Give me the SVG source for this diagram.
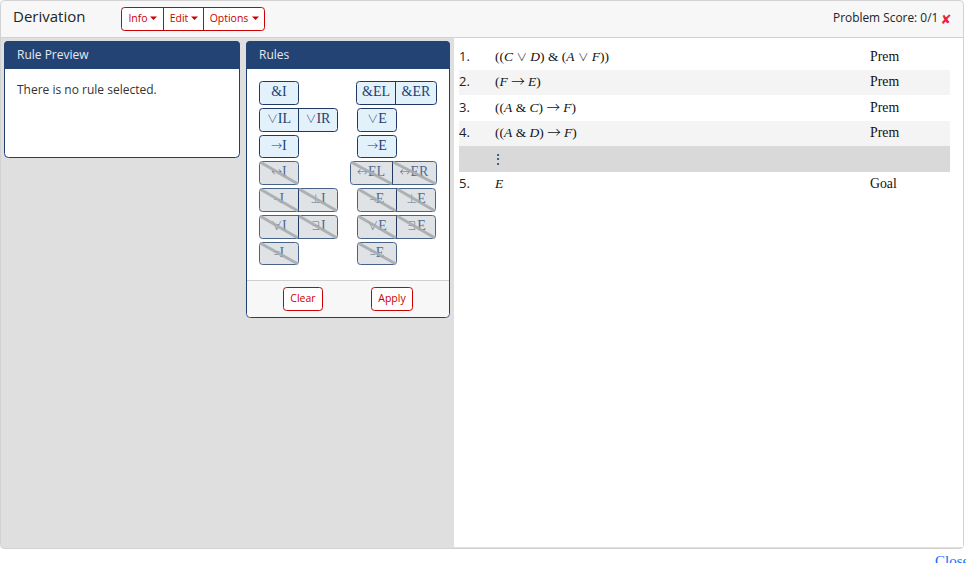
<svg xmlns="http://www.w3.org/2000/svg" width="966" height="563" viewBox="0 0 966 563">
<style>
text{font-family:"Open Sans","Noto Sans",sans-serif;fill:#212529;font-size:12px}
.i{font-style:italic}
.y{font-family:"Noto Sans CJK JP","Liberation Serif",serif;font-weight:300;font-size:.78em}
.a{font-family:"Noto Sans CJK JP","Liberation Serif",serif;font-weight:300;font-size:1em}
.hd{fill:#e4e9ee;font-size:12px}
.red{fill:#c00;font-size:10.5px;text-anchor:middle}
.btn{fill:#fff;stroke:#c00;stroke-width:1}
.r{fill:#e3f2fa;stroke:#1f3864;stroke-width:1}
.d{fill:#dfe3e6;stroke:#48628a;stroke-width:1}
.rt{font-family:"Liberation Serif",serif;font-size:14px;fill:#1f3f73;text-anchor:middle}
.dt{font-family:"Liberation Serif",serif;font-size:14px;fill:#4f6a92;text-anchor:middle}
.s{stroke:#a9acae;stroke-width:3;opacity:.9}
.n{font-size:13px;fill:#222}
.f{font-family:"Liberation Serif",serif;font-size:13.500px;fill:#111}
.p{font-family:"Liberation Serif",serif;font-size:13.800px;fill:#111}
</style>
<rect x="0.5" y="0.5" width="963" height="548" rx="4" fill="#dfdfdf" stroke="#d2d2d2"/>
<g id="header">
<path d="M1 37V5Q1 1 5 1H959Q963 1 963 5V37Z" fill="#f7f7f7"/>
<line x1="1" y1="37.500" x2="963" y2="37.500" stroke="#d2d2d2"/>
<text x="13" y="22" style="font-size:15px">Derivation</text>
<text x="833" y="22" style="font-size:11.900px" fill="#333">Problem Score: 0/1</text>
<text x="946" y="24" style="font-family:'DejaVu Sans',sans-serif;font-size:13px;fill:#e8213c;font-weight:bold;text-anchor:middle">✘</text>
</g>
<g id="menu">
<rect class="btn" x="121.500" y="7.500" width="143" height="23" rx="3"/>
<line x1="163.500" y1="7.500" x2="163.500" y2="30.500" stroke="#c00"/>
<line x1="203.500" y1="7.500" x2="203.500" y2="30.500" stroke="#c00"/>
<text class="red" x="138" y="22">Info</text><path d="M150 16.500h7l-3.500 3.500z" fill="#c00"/>
<text class="red" x="179" y="22">Edit</text><path d="M191 16.500h7l-3.500 3.500z" fill="#c00"/>
<text class="red" x="229" y="22">Options</text><path d="M252 16.500h7l-3.500 3.500z" fill="#c00"/>
</g>
<g id="rule-preview">
<rect x="4.500" y="41.500" width="235" height="116" rx="4" fill="#fff" stroke="#1f3f73"/>
<path d="M4 69V45Q4 41 8 41H236Q240 41 240 45V69Z" fill="#234375"/>
<text class="hd" x="17" y="59">Rule Preview</text>
<text x="17" y="94" style="fill:#333">There is no rule selected.</text>
</g>
<g id="rules">
<rect x="246.500" y="41.500" width="203" height="276" rx="4" fill="#fff" stroke="#1f3f73"/>
<path d="M246 69V45Q246 41 250 41H446Q450 41 450 45V69Z" fill="#234375"/>
<text class="hd" x="259" y="59">Rules</text>
<path d="M247 280.500H449V313Q449 317 445 317H251Q247 317 247 313Z" fill="#f7f7f7"/>
<line x1="247" y1="280.500" x2="449" y2="280.500" stroke="#cfcfcf"/>
<g id="rule-buttons-enabled">
<rect class="r" x="259.500" y="81.500" width="39" height="23" rx="3"/><text class="rt" x="279" y="96">&amp;I</text>
<rect class="r" x="356.500" y="81.500" width="80" height="23" rx="3"/><line x1="395.500" y1="81.500" x2="395.500" y2="104.500" stroke="#1f3864"/><text class="rt" x="376" y="96">&amp;EL</text><text class="rt" x="416" y="96">&amp;ER</text>
<rect class="r" x="259.500" y="108.500" width="78" height="23" rx="3"/><line x1="298.500" y1="108.500" x2="298.500" y2="131.500" stroke="#1f3864"/><text class="rt" x="279" y="123"><tspan class="y">∨</tspan>IL</text><text class="rt" x="318" y="123"><tspan class="y">∨</tspan>IR</text>
<rect class="r" x="357.500" y="108.500" width="39" height="23" rx="3"/><text class="rt" x="377" y="123"><tspan class="y">∨</tspan>E</text>
<rect class="r" x="259.500" y="135.500" width="39" height="22" rx="3"/><text class="rt" x="279" y="150"><tspan class="y">→</tspan>I</text>
<rect class="r" x="357.500" y="135.500" width="39" height="22" rx="3"/><text class="rt" x="377" y="150"><tspan class="y">→</tspan>E</text>
</g>
<g id="rule-buttons-disabled">
<rect class="d" x="259.500" y="161.500" width="39" height="23" rx="3"/><text class="dt" x="279" y="176"><tspan class="y">↔</tspan>I</text><line class="s" x1="260" y1="162" x2="298" y2="184"/>
<rect class="d" x="350.500" y="161.500" width="86" height="23" rx="3"/><line x1="392.500" y1="161.500" x2="392.500" y2="184.500" stroke="#1f3864"/><text class="dt" x="371" y="176"><tspan class="y">↔</tspan>EL</text><text class="dt" x="414" y="176"><tspan class="y">↔</tspan>ER</text><line class="s" x1="351" y1="162" x2="392" y2="184"/><line class="s" x1="393" y1="162" x2="436" y2="184"/>
<rect class="d" x="259.500" y="188.500" width="78" height="23" rx="3"/><line x1="298.500" y1="188.500" x2="298.500" y2="211.500" stroke="#1f3864"/><text class="dt" x="279" y="203"><tspan class="y">¬</tspan>I</text><text class="dt" x="318" y="203"><tspan class="y">⊥</tspan>I</text><line class="s" x1="260" y1="189" x2="298" y2="211"/><line class="s" x1="299" y1="189" x2="337" y2="211"/>
<rect class="d" x="357.500" y="188.500" width="78" height="23" rx="3"/><line x1="396.500" y1="188.500" x2="396.500" y2="211.500" stroke="#1f3864"/><text class="dt" x="377" y="203"><tspan class="y">¬</tspan>E</text><text class="dt" x="416" y="203"><tspan class="y">⊥</tspan>E</text><line class="s" x1="358" y1="189" x2="396" y2="211"/><line class="s" x1="397" y1="189" x2="435" y2="211"/>
<rect class="d" x="259.500" y="215.500" width="78" height="23" rx="3"/><line x1="298.500" y1="215.500" x2="298.500" y2="238.500" stroke="#1f3864"/><text class="dt" x="279" y="230"><tspan class="y">∀</tspan>I</text><text class="dt" x="318" y="230"><tspan class="y">∃</tspan>I</text><line class="s" x1="260" y1="216" x2="298" y2="238"/><line class="s" x1="299" y1="216" x2="337" y2="238"/>
<rect class="d" x="357.500" y="215.500" width="78" height="23" rx="3"/><line x1="396.500" y1="215.500" x2="396.500" y2="238.500" stroke="#1f3864"/><text class="dt" x="377" y="230"><tspan class="y">∀</tspan>E</text><text class="dt" x="416" y="230"><tspan class="y">∃</tspan>E</text><line class="s" x1="358" y1="216" x2="396" y2="238"/><line class="s" x1="397" y1="216" x2="435" y2="238"/>
<rect class="d" x="259.500" y="242.500" width="39" height="22" rx="3"/><text class="dt" x="279" y="257"><tspan class="y">=</tspan>I</text><line class="s" x1="260" y1="243" x2="298" y2="264"/>
<rect class="d" x="357.500" y="242.500" width="39" height="22" rx="3"/><text class="dt" x="377" y="257"><tspan class="y">=</tspan>E</text><line class="s" x1="358" y1="243" x2="396" y2="264"/>
</g>
<g id="clear"><rect class="btn" x="283.500" y="287.500" width="39" height="23" rx="3"/><text class="red" x="303" y="302">Clear</text></g>
<g id="apply"><rect class="btn" x="371.500" y="287.500" width="41" height="23" rx="3"/><text class="red" x="392" y="302">Apply</text></g>
</g>
<g id="derivation">
<rect x="454" y="38" width="509" height="509" fill="#fff"/>
<rect x="459" y="70" width="491" height="25" fill="#f4f4f4"/>
<rect x="459" y="121" width="491" height="25" fill="#f4f4f4"/>
<rect x="459" y="146" width="491" height="26" fill="#d9d9d9"/>
<g id="line1"><text class="n" x="459" y="61">1.</text><text class="f" x="495" y="61">((<tspan class="i">C</tspan> <tspan class="y">∨</tspan> <tspan class="i">D</tspan>) &amp; (<tspan class="i">A</tspan> <tspan class="y">∨</tspan> <tspan class="i">F</tspan>))</text><text class="p" x="870" y="61">Prem</text></g>
<g id="line2"><text class="n" x="459" y="86">2.</text><text class="f" x="495" y="86">(<tspan class="i">F</tspan> <tspan class="a">→</tspan> <tspan class="i">E</tspan>)</text><text class="p" x="870" y="86">Prem</text></g>
<g id="line3"><text class="n" x="459" y="112">3.</text><text class="f" x="495" y="112">((<tspan class="i">A</tspan> &amp; <tspan class="i">C</tspan>) <tspan class="a">→</tspan> <tspan class="i">F</tspan>)</text><text class="p" x="870" y="112">Prem</text></g>
<g id="line4"><text class="n" x="459" y="137">4.</text><text class="f" x="495" y="137">((<tspan class="i">A</tspan> &amp; <tspan class="i">D</tspan>) <tspan class="a">→</tspan> <tspan class="i">F</tspan>)</text><text class="p" x="870" y="137">Prem</text></g>
<g id="gap"><text class="f" x="492" y="163" style="font-size:12px">⋮</text></g>
<g id="line5"><text class="n" x="459" y="188">5.</text><text class="f i" x="495" y="188">E</text><text class="p" x="870" y="188">Goal</text></g>
</g>
<text x="935" y="566" style="font-family:'Liberation Serif',serif;font-size:15px;fill:#0d6efd">Close</text>
</svg>
